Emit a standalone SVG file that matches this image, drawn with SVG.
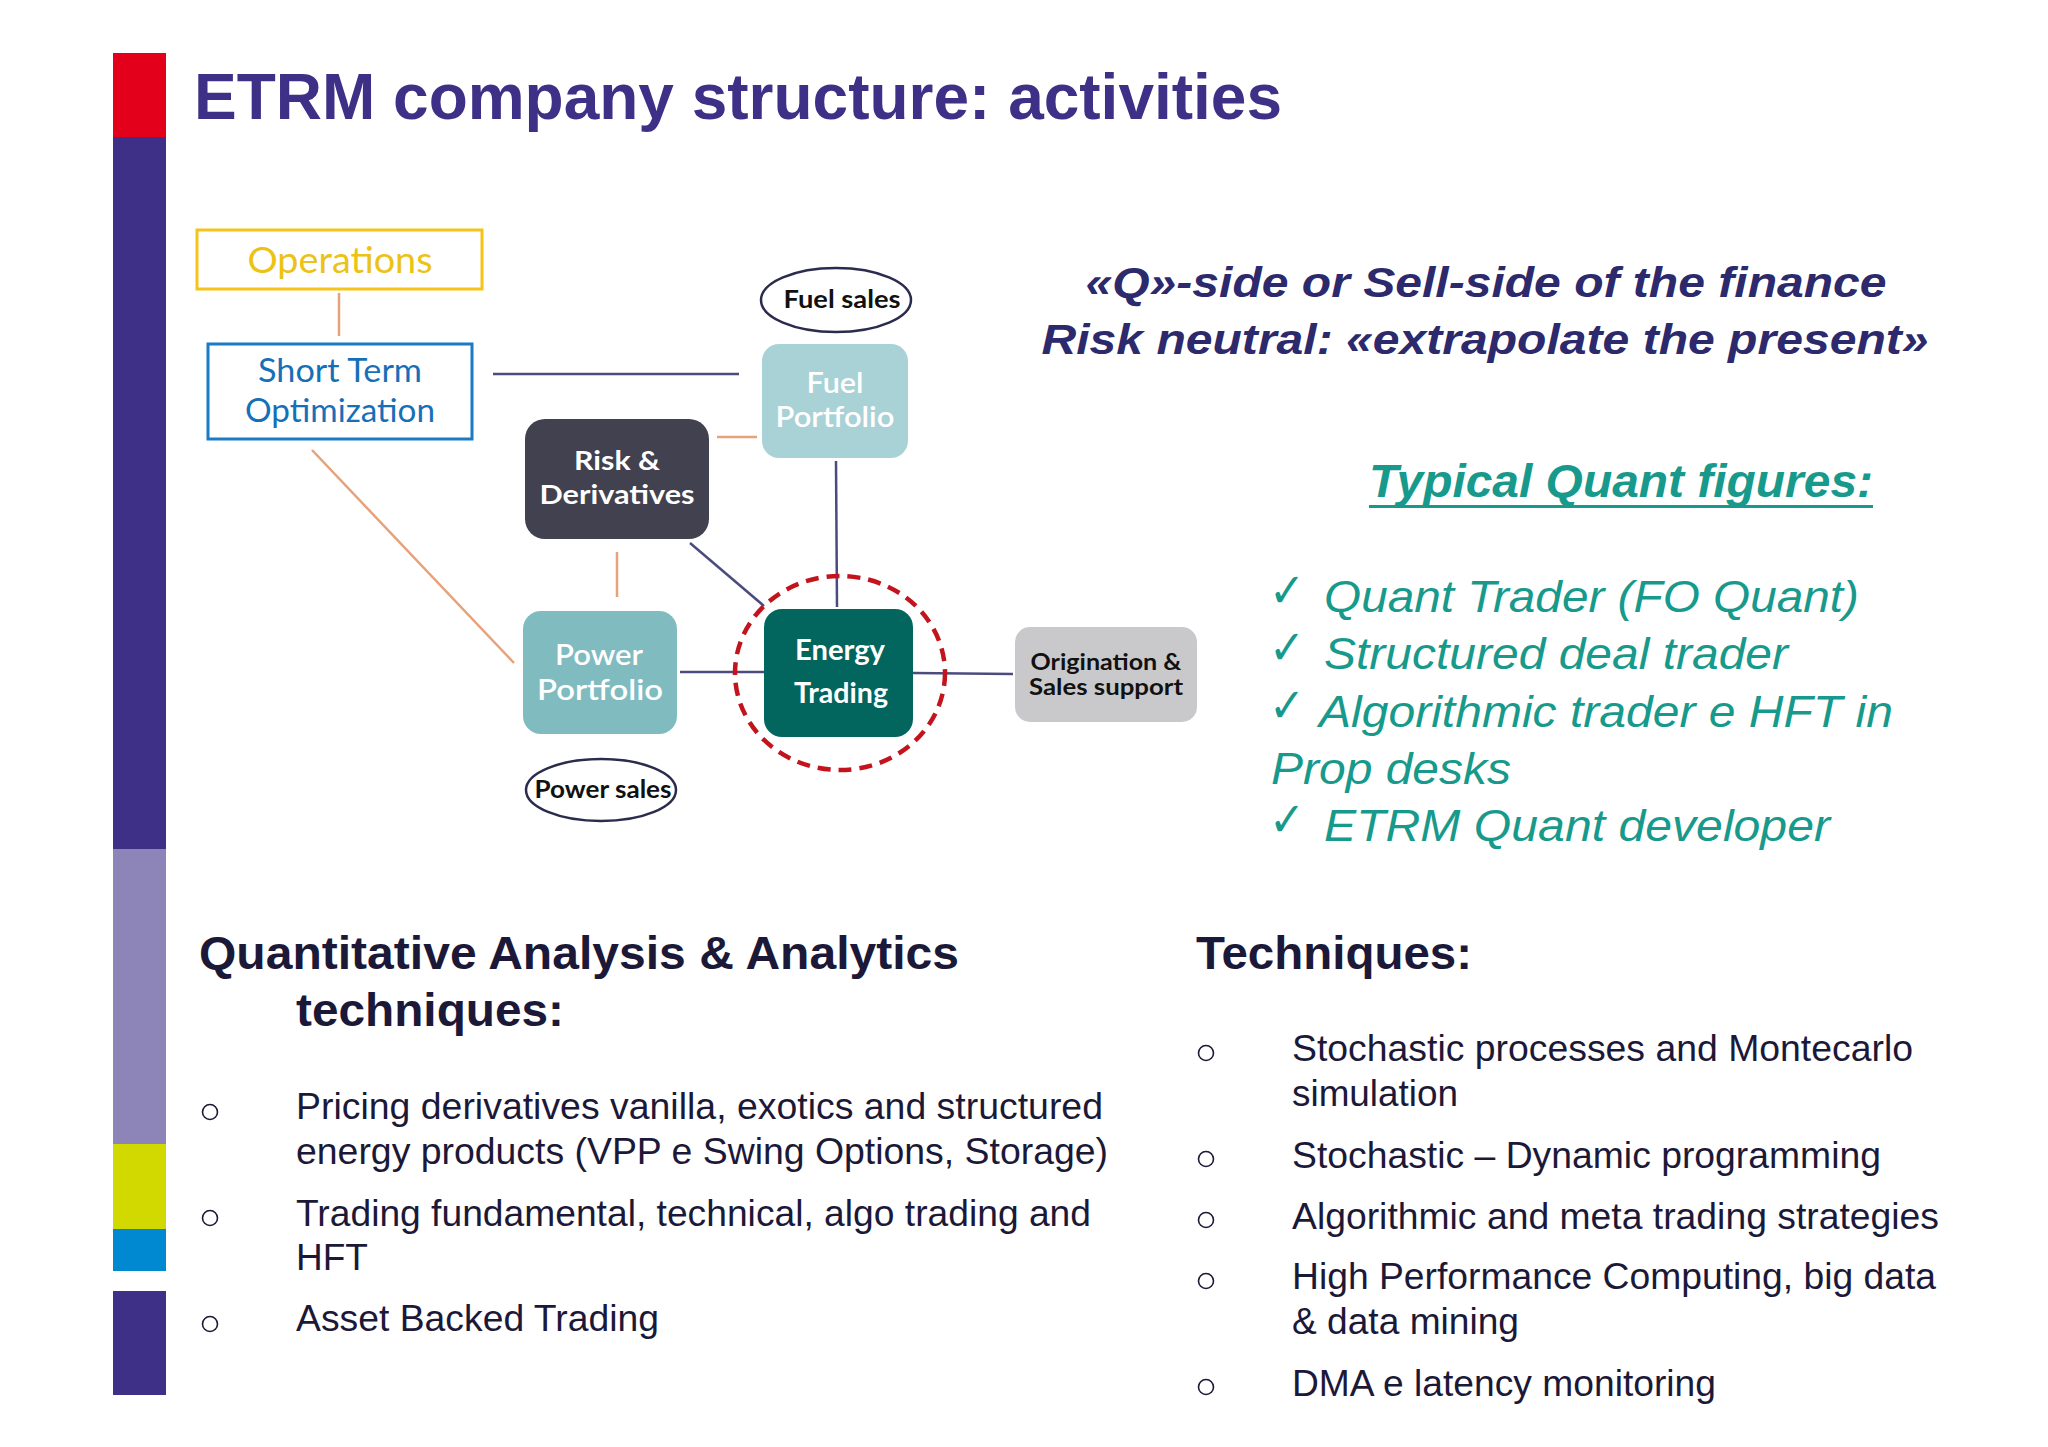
<svg xmlns="http://www.w3.org/2000/svg" width="2048" height="1447" viewBox="0 0 2048 1447">
<defs>
<style>
.title{font-family:"Liberation Sans",Arial,sans-serif;font-weight:bold;font-size:64px;fill:#3f3087}
.nav{stroke:#4b4b7d;stroke-width:2.5;fill:none}
.org{stroke:#e6a27a;stroke-width:2.5;fill:none}
.nt{font-family:Lato,"Liberation Sans",sans-serif;text-anchor:middle}
.wh{fill:#ffffff;font-weight:bold}
.wn{fill:#ffffff;font-weight:600}
.bk{fill:#111111;font-weight:bold}
.hd{font-family:"Liberation Sans",Arial,sans-serif;font-weight:bold;font-style:italic;font-size:43px;fill:#2c2a6c;text-anchor:middle}
.tq{font-family:"Liberation Sans",Arial,sans-serif;font-style:italic;fill:#17998b}
.ck{font-family:"DejaVu Sans",sans-serif;font-weight:bold;fill:#17998b;font-size:48px}
.bh{font-family:"Liberation Sans",Arial,sans-serif;font-weight:bold;font-size:46px;fill:#1c1938}
.bt{font-family:"Liberation Sans",Arial,sans-serif;font-size:36px;fill:#1c1938}
.bu{fill:none;stroke:#1c1938;stroke-width:1.6}
</style>
</defs>
<rect width="2048" height="1447" fill="#ffffff"/>

<g id="sidebar">
<rect x="113" y="53" width="53" height="84" fill="#e2001a"/>
<rect x="113" y="137" width="53" height="712" fill="#3f3087"/>
<rect x="113" y="849" width="53" height="295" fill="#8d84b7"/>
<rect x="113" y="1144" width="53" height="85" fill="#d2d900"/>
<rect x="113" y="1229" width="53" height="42" fill="#0088d0"/>
<rect x="113" y="1291" width="53" height="104" fill="#3f3087"/>
</g>

<text class="title" x="194" y="119" textLength="1088" lengthAdjust="spacingAndGlyphs">ETRM company structure: activities</text>

<g id="connectors">
<line class="org" x1="339" y1="293" x2="339" y2="336"/>
<line class="nav" x1="493" y1="374" x2="739" y2="374"/>
<line class="org" x1="717" y1="437" x2="757" y2="437"/>
<line class="nav" x1="836" y1="461" x2="837" y2="607"/>
<line class="org" x1="617" y1="552" x2="617" y2="597"/>
<line class="nav" x1="690" y1="543" x2="764" y2="606"/>
<line class="org" x1="312" y1="450" x2="514" y2="663"/>
<line class="nav" x1="680" y1="672" x2="764" y2="672"/>
<line class="nav" x1="913" y1="673" x2="1013" y2="674"/>
</g>

<g id="operations">
<rect x="197" y="230" width="285" height="59" fill="#ffffff" stroke="#f4c419" stroke-width="3"/>
<text class="nt" x="340" y="273" font-size="36" fill="#ecc214" textLength="185" lengthAdjust="spacingAndGlyphs">Operations</text>
</g>

<g id="short-term">
<rect x="208" y="344" width="264" height="95" fill="#ffffff" stroke="#1a7bc4" stroke-width="3"/>
<text class="nt" x="340" y="382" font-size="33" fill="#1670b8" textLength="164" lengthAdjust="spacingAndGlyphs">Short Term</text>
<text class="nt" x="340" y="422" font-size="33" fill="#1670b8" textLength="190" lengthAdjust="spacingAndGlyphs">Optimization</text>
</g>

<g id="fuel-sales">
<ellipse cx="836" cy="300" rx="75" ry="32" fill="#ffffff" stroke="#2b2b4d" stroke-width="2.5"/>
<text class="nt bk" x="842" y="308" font-size="25" textLength="117" lengthAdjust="spacingAndGlyphs">Fuel sales</text>
</g>

<g id="fuel-portfolio">
<rect x="762" y="344" width="146" height="114" rx="17" fill="#a9d2d6"/>
<text class="nt wn" x="835" y="393" font-size="29" textLength="57" lengthAdjust="spacingAndGlyphs">Fuel</text>
<text class="nt wn" x="835" y="427" font-size="29" textLength="119" lengthAdjust="spacingAndGlyphs">Portfolio</text>
</g>

<g id="risk-derivatives">
<rect x="525" y="419" width="184" height="120" rx="20" fill="#42414f"/>
<text class="nt wh" x="617" y="470" font-size="27" textLength="86" lengthAdjust="spacingAndGlyphs">Risk &amp;</text>
<text class="nt wh" x="617" y="504" font-size="27" textLength="155" lengthAdjust="spacingAndGlyphs">Derivatives</text>
</g>

<g id="power-portfolio">
<rect x="523" y="611" width="154" height="123" rx="18" fill="#80bbc0"/>
<text class="nt wn" x="599" y="665" font-size="28" textLength="88" lengthAdjust="spacingAndGlyphs">Power</text>
<text class="nt wn" x="600" y="700" font-size="28" textLength="126" lengthAdjust="spacingAndGlyphs">Portfolio</text>
</g>

<g id="energy-trading">
<rect x="764" y="609" width="149" height="128" rx="18" fill="#02665f"/>
<text class="nt wh" x="840" y="660" font-size="28" textLength="90" lengthAdjust="spacingAndGlyphs">Energy</text>
<text class="nt wh" x="841" y="703" font-size="28" textLength="94" lengthAdjust="spacingAndGlyphs">Trading</text>
<ellipse cx="840" cy="673" rx="105" ry="97" fill="none" stroke="#c3141e" stroke-width="4.5" stroke-dasharray="13 8"/>
</g>

<g id="origination">
<rect x="1015" y="627" width="182" height="95" rx="15" fill="#c9c9cb"/>
<text class="nt bk" x="1106" y="670" font-size="23" textLength="151" lengthAdjust="spacingAndGlyphs">Origination &amp;</text>
<text class="nt bk" x="1106" y="695" font-size="23" textLength="154" lengthAdjust="spacingAndGlyphs">Sales support</text>
</g>

<g id="power-sales">
<ellipse cx="601" cy="790" rx="75" ry="31" fill="#ffffff" stroke="#2b2b4d" stroke-width="2.5"/>
<text class="nt bk" x="603" y="798" font-size="25" textLength="137" lengthAdjust="spacingAndGlyphs">Power sales</text>
</g>

<g id="q-side">
<text class="hd" x="1486" y="297" textLength="801" lengthAdjust="spacingAndGlyphs">«Q»-side or Sell-side of the finance</text>
<text class="hd" x="1485" y="354" textLength="887" lengthAdjust="spacingAndGlyphs">Risk neutral: «extrapolate the present»</text>
</g>

<g id="quant-figures">
<text class="tq" x="1369" y="497" font-size="47" font-weight="bold" textLength="504" lengthAdjust="spacingAndGlyphs">Typical Quant figures:</text>
<rect x="1369" y="505" width="504" height="3" fill="#17998b"/>
<text class="ck" x="1269" y="607" textLength="36" lengthAdjust="spacingAndGlyphs">✓</text>
<text class="tq" x="1324" y="612" font-size="45" textLength="535" lengthAdjust="spacingAndGlyphs">Quant Trader (FO Quant)</text>
<text class="ck" x="1269" y="664" textLength="36" lengthAdjust="spacingAndGlyphs">✓</text>
<text class="tq" x="1324" y="669" font-size="45" textLength="464" lengthAdjust="spacingAndGlyphs">Structured deal trader</text>
<text class="ck" x="1269" y="722" textLength="36" lengthAdjust="spacingAndGlyphs">✓</text>
<text class="tq" x="1319" y="727" font-size="45" textLength="574" lengthAdjust="spacingAndGlyphs">Algorithmic trader e HFT in</text>
<text class="tq" x="1271" y="784" font-size="45" textLength="240" lengthAdjust="spacingAndGlyphs">Prop desks</text>
<text class="ck" x="1269" y="836" textLength="36" lengthAdjust="spacingAndGlyphs">✓</text>
<text class="tq" x="1324" y="841" font-size="45" textLength="506" lengthAdjust="spacingAndGlyphs">ETRM Quant developer</text>
</g>

<g id="analysis">
<text class="bh" x="199" y="969" textLength="760" lengthAdjust="spacingAndGlyphs">Quantitative Analysis &amp; Analytics</text>
<text class="bh" x="296" y="1026" textLength="268" lengthAdjust="spacingAndGlyphs">techniques:</text>
<ellipse class="bu" cx="210" cy="1112" rx="7.5" ry="7.5"/>
<text class="bt" x="296" y="1119" textLength="807" lengthAdjust="spacingAndGlyphs">Pricing derivatives vanilla, exotics and structured</text>
<text class="bt" x="296" y="1164" textLength="812" lengthAdjust="spacingAndGlyphs">energy products (VPP e Swing Options, Storage)</text>
<ellipse class="bu" cx="210" cy="1218" rx="7.5" ry="7.5"/>
<text class="bt" x="296" y="1226" textLength="795" lengthAdjust="spacingAndGlyphs">Trading fundamental, technical, algo trading and</text>
<text class="bt" x="296" y="1270" textLength="72" lengthAdjust="spacingAndGlyphs">HFT</text>
<ellipse class="bu" cx="210" cy="1324" rx="7.5" ry="7.5"/>
<text class="bt" x="296" y="1331" textLength="363" lengthAdjust="spacingAndGlyphs">Asset Backed Trading</text>
</g>

<g id="techniques">
<text class="bh" x="1196" y="969" textLength="276" lengthAdjust="spacingAndGlyphs">Techniques:</text>
<ellipse class="bu" cx="1206" cy="1053" rx="7.5" ry="7.5"/>
<text class="bt" x="1292" y="1061" textLength="621" lengthAdjust="spacingAndGlyphs">Stochastic processes and Montecarlo</text>
<text class="bt" x="1292" y="1106" textLength="166" lengthAdjust="spacingAndGlyphs">simulation</text>
<ellipse class="bu" cx="1206" cy="1159" rx="7.5" ry="7.5"/>
<text class="bt" x="1292" y="1168" textLength="589" lengthAdjust="spacingAndGlyphs">Stochastic – Dynamic programming</text>
<ellipse class="bu" cx="1206" cy="1220" rx="7.5" ry="7.5"/>
<text class="bt" x="1292" y="1229" textLength="647" lengthAdjust="spacingAndGlyphs">Algorithmic and meta trading strategies</text>
<ellipse class="bu" cx="1206" cy="1281" rx="7.5" ry="7.5"/>
<text class="bt" x="1292" y="1289" textLength="644" lengthAdjust="spacingAndGlyphs">High Performance Computing, big data</text>
<text class="bt" x="1292" y="1334" textLength="227" lengthAdjust="spacingAndGlyphs">&amp; data mining</text>
<ellipse class="bu" cx="1206" cy="1387" rx="7.5" ry="7.5"/>
<text class="bt" x="1292" y="1396" textLength="424" lengthAdjust="spacingAndGlyphs">DMA e latency monitoring</text>
</g>
</svg>
